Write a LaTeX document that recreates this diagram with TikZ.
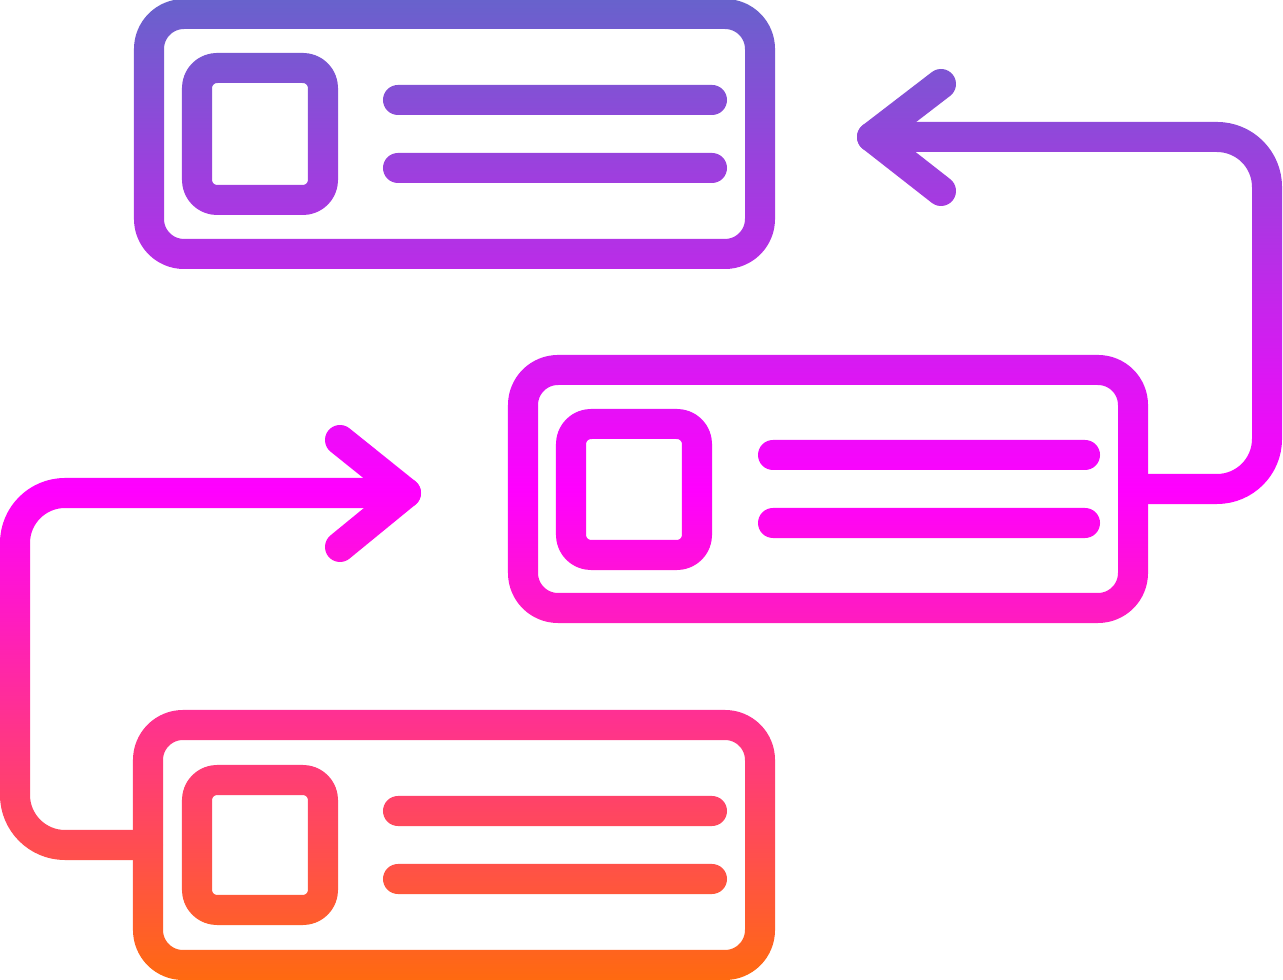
\documentclass[tikz,border=0pt]{standalone}
\usetikzlibrary{fadings}
\definecolor{iconTop}{RGB}{104,98,204}
\definecolor{iconMid}{RGB}{255,0,255}
\definecolor{iconBot}{RGB}{255,106,16}
\tikzset{
  band/.style={draw=transparent!0, line width=0.3cm, line cap=round, line join=round},
  card/.style={band, rounded corners=0.35cm},
  thumb/.style={band, rounded corners=0.2cm},
  flow/.style={band, rounded corners=0.5cm},
}

% white strokes of the icon, used as a mask for the gradient
\begin{tikzfadingfrompicture}[name=flowicon, x=0.01cm, y=0.01cm]
  \useasboundingbox (0,0) rectangle (1283,980);
  % top card
  \draw[card] (149,966) rectangle (760,726);
  \draw[thumb] (197,912) rectangle (323,780);
  \draw[band] (398,880) -- (712,880);
  \draw[band] (398,812) -- (712,812);
  % middle card
  \draw[card] (523,610) rectangle (1133,372);
  \draw[thumb] (571,556) rectangle (697,425);
  \draw[band] (773,525) -- (1085,525);
  \draw[band] (773,457) -- (1085,457);
  % bottom card
  \draw[card] (148,255) rectangle (760,15);
  \draw[thumb] (197,200) rectangle (323,70);
  \draw[band] (398,169) -- (712,169);
  \draw[band] (398,101) -- (712,101);
  % connector middle -> top
  \coordinate (midout) at (1133,491);
  \coordinate (toptip) at (872,843);
  \draw[flow] (midout) -- (1267,491) -- (1267,843) -- (toptip);
  \draw[band] (941,896) -- (toptip) -- (941,789);
  % connector bottom -> middle
  \coordinate (botout) at (148,135);
  \coordinate (midtip) at (406,487);
  \draw[flow] (botout) -- (15,135) -- (15,487) -- (midtip);
  \draw[band] (340,540) -- (midtip) -- (340,433);
\end{tikzfadingfrompicture}

\begin{document}
\begin{tikzpicture}[x=0.01cm, y=0.01cm]
  % the fading is centred on the origin
  \useasboundingbox (-641.5,-490) rectangle (641.5,490);
  \shade[top color=iconTop, bottom color=iconBot, middle color=iconMid,
    path fading=flowicon, fit fading=false] (-641.5,-490) rectangle (641.5,490);
\end{tikzpicture}
\end{document}
